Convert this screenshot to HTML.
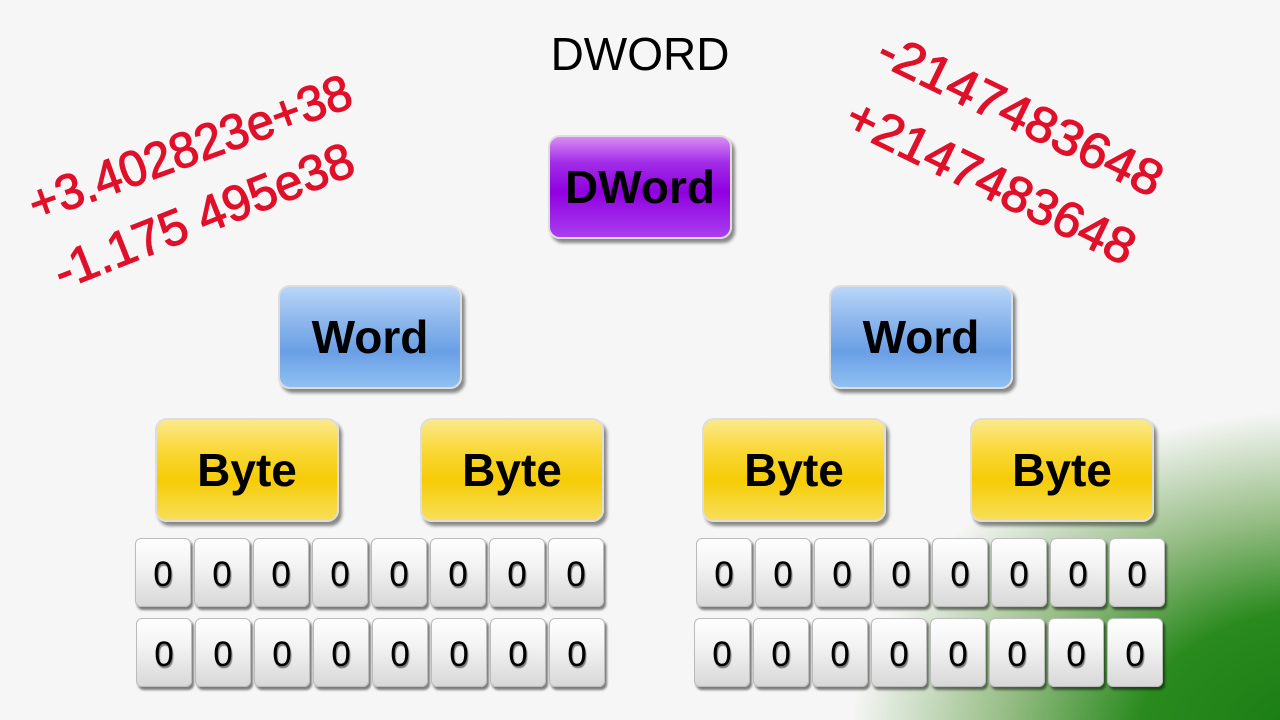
<!DOCTYPE html>
<html><head><meta charset="utf-8"><style>
body{margin:0;width:1280px;height:720px;overflow:hidden;font-family:"Liberation Sans",sans-serif;}
#bg{position:absolute;left:0;top:0;width:1280px;height:720px;background:#f6f6f6;}
#green{position:absolute;left:0;top:0;width:1280px;height:720px;
background:radial-gradient(ellipse 480px 330px at 1330px 740px,#157a12 0%,#2a8a1e 40%,rgba(110,165,85,0.7) 68%,rgba(246,246,246,0) 100%);}
.title{position:absolute;left:0;width:1280px;top:27px;text-align:center;font-size:46px;color:#000;}
.box{position:absolute;width:184px;height:104px;border-radius:12px;box-sizing:border-box;border:2px solid #ddd;
box-shadow:3px 4px 3px rgba(0,0,0,0.45);text-align:center;line-height:100px;font-weight:bold;font-size:46px;color:#000;}
.p{background:linear-gradient(#d98cf5 0%,#a32ee8 25%,#9000e0 55%,#a93ff0 100%);}
.b{background:linear-gradient(#b8d6f8 0%,#8cb6ec 35%,#6a9fe6 65%,#8fc0f2 100%);}
.y{background:linear-gradient(#fbe98c 0%,#f9d838 30%,#f6cc06 60%,#f8de5a 100%);}
.row{position:absolute;display:flex;gap:3px;}
.c{width:56px;height:69px;border-radius:6px;box-sizing:border-box;border:1px solid #bbb;
background:linear-gradient(#ffffff 0%,#f3f3f3 40%,#d8d8d8 100%);box-shadow:2px 3px 2px rgba(0,0,0,0.5);
text-align:center;line-height:72px;font-size:35px;color:#000;text-shadow:1px 2px 1px #777;}
svg{position:absolute;left:0;top:0;}
</style></head><body>
<div id="bg"></div><div id="green"></div>
<div class="title">DWORD</div>
<svg width="1280" height="720">
<g fill="#e0102a" stroke="#e0102a" stroke-width="1.2" font-family="Liberation Sans, sans-serif" font-size="50">
<text transform="translate(36,222) rotate(-20)" textLength="340" lengthAdjust="spacingAndGlyphs">+3.402823e+38</text>
<text transform="translate(62,290) rotate(-21.5)" textLength="318" lengthAdjust="spacingAndGlyphs">-1.175 495e38</text>
<text transform="translate(874,62) rotate(26)" textLength="310" lengthAdjust="spacingAndGlyphs">-2147483648</text>
<text transform="translate(842,128) rotate(26)" textLength="315" lengthAdjust="spacingAndGlyphs">+2147483648</text>
</g></svg>
<div class="box p" style="left:548px;top:135px;">DWord</div>
<div class="box b" style="left:278px;top:285px;">Word</div>
<div class="box b" style="left:829px;top:285px;">Word</div>
<div class="box y" style="left:155px;top:418px;">Byte</div>
<div class="box y" style="left:420px;top:418px;">Byte</div>
<div class="box y" style="left:702px;top:418px;">Byte</div>
<div class="box y" style="left:970px;top:418px;">Byte</div>
<div class="row" style="left:135px;top:538px;"><div class="c">0</div><div class="c">0</div><div class="c">0</div><div class="c">0</div><div class="c">0</div><div class="c">0</div><div class="c">0</div><div class="c">0</div></div>
<div class="row" style="left:136px;top:618px;"><div class="c">0</div><div class="c">0</div><div class="c">0</div><div class="c">0</div><div class="c">0</div><div class="c">0</div><div class="c">0</div><div class="c">0</div></div>
<div class="row" style="left:696px;top:538px;"><div class="c">0</div><div class="c">0</div><div class="c">0</div><div class="c">0</div><div class="c">0</div><div class="c">0</div><div class="c">0</div><div class="c">0</div></div>
<div class="row" style="left:694px;top:618px;"><div class="c">0</div><div class="c">0</div><div class="c">0</div><div class="c">0</div><div class="c">0</div><div class="c">0</div><div class="c">0</div><div class="c">0</div></div>
</body></html>
